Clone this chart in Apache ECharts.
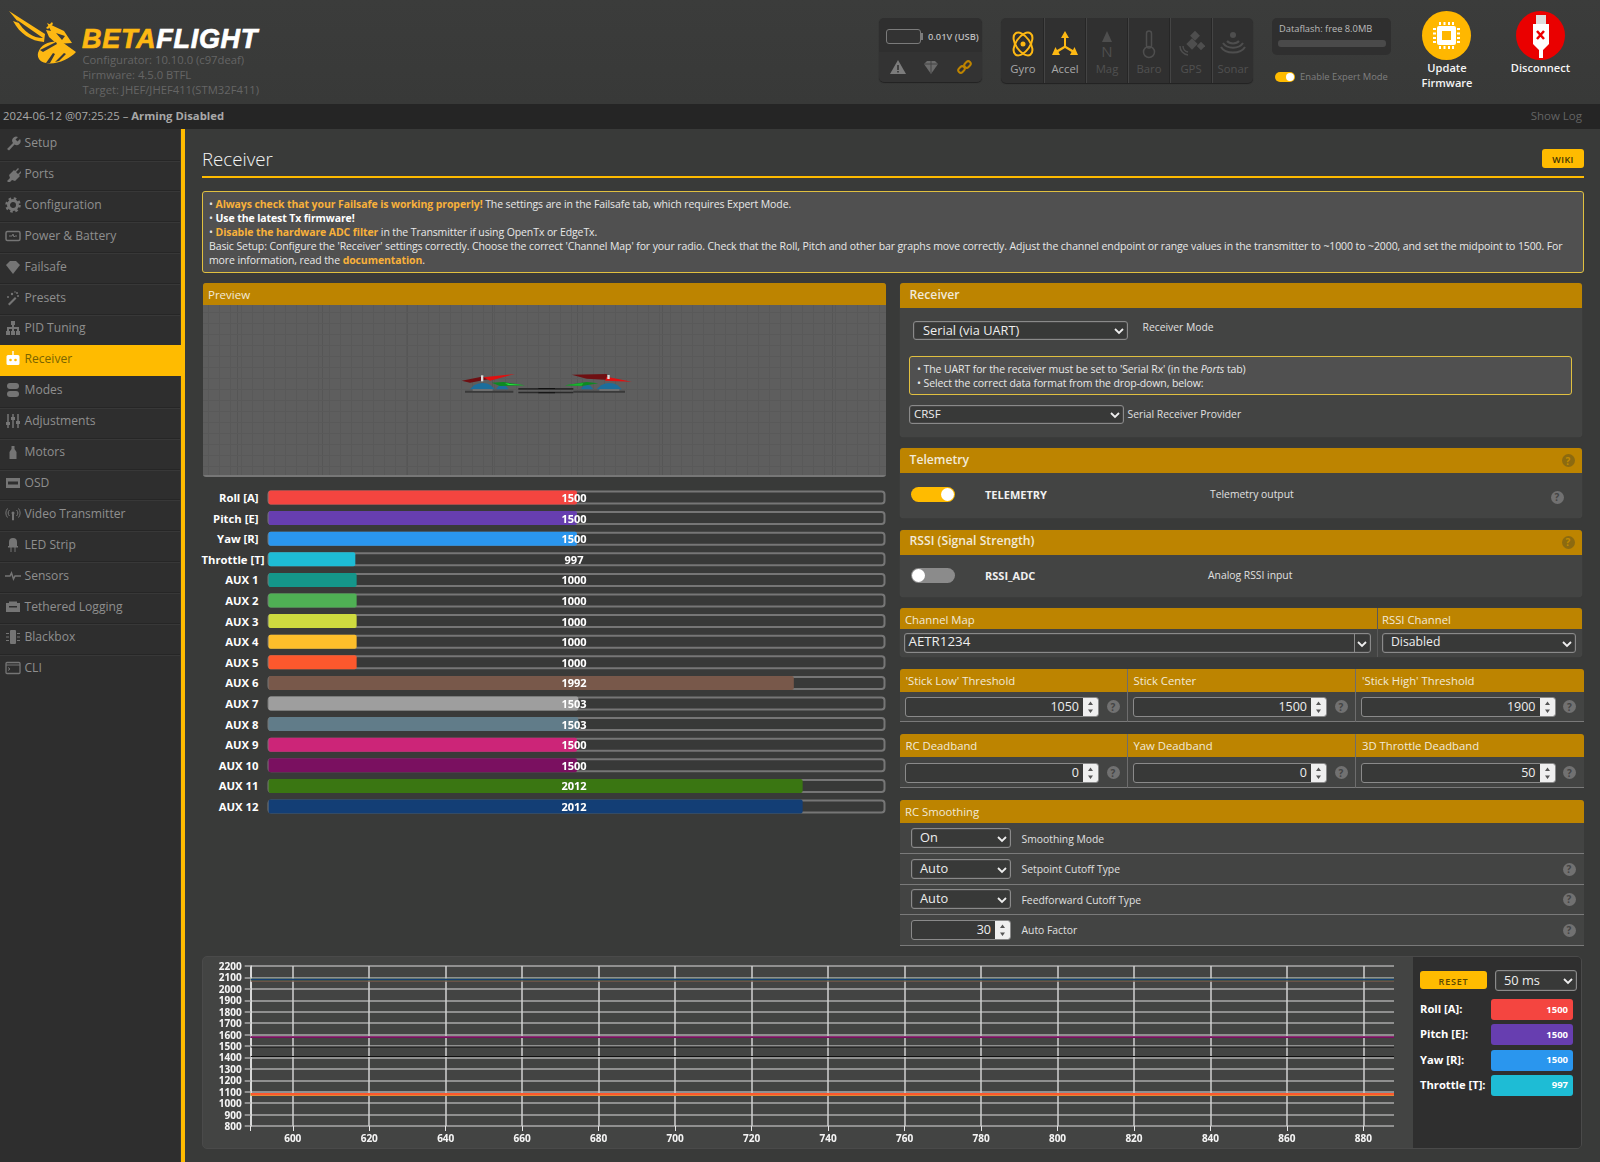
<!DOCTYPE html>
<html><head><meta charset="utf-8"><title>Betaflight Receiver</title>
<script src="https://cdn.jsdelivr.net/npm/echarts@6/dist/echarts.min.js"></script>
<style>
html,body{margin:0;padding:0;width:1600px;height:1162px;overflow:hidden;background:#393a39;font-family:"Open Sans",sans-serif;color:#ddd;}
#ui,#ui div{position:absolute;box-sizing:border-box;}
#ui{left:0;top:0;width:1600px;height:1162px;}
#ui .t{white-space:nowrap;line-height:1;}
svg{display:block;}
b{font-weight:700}
</style></head><body>
<div id="ui"></div>
<div id="bars" style="position:absolute;left:190px;top:480px;width:710px;height:340px"></div>
<div id="lines" style="position:absolute;left:203px;top:957px;width:1210px;height:191px"></div>
<script>
/* ---- chart data ---- */
const channelNames = ['Roll [A]','Pitch [E]','Yaw [R]','Throttle [T]','AUX 1','AUX 2','AUX 3','AUX 4','AUX 5','AUX 6','AUX 7','AUX 8','AUX 9','AUX 10','AUX 11','AUX 12'];
const channelValues = [1500,1500,1500,997,1000,1000,1000,1000,1000,1992,1503,1503,1500,1500,2012,2012];
const channelColors = ['#f44540','#673eb0','#2a96ee','#1ebcd5','#14968a','#4fb054','#cedb3f','#fdbe2b','#fd582d','#78584a','#9e9e9e','#617c89','#cc2578','#7a1060','#3a7612','#133e75'];
const meterMin = 800, meterMax = 2200;
const traceTimes = [589, 888];
const traceLevels = [1576,1576,1576,1073,1078,1078,1078,1078,1078,2069,1576,1576,1576,1576,2082,2082];
const traceDarkLevels = [1491,1408];
const yMin = 800, yMax = 2200, yStep = 100;
const xMin = 589, xMax = 888;
const xTicks = [600,620,640,660,680,700,720,740,760,780,800,820,840,860,880];
const legendRows = [['Roll [A]:',1500,'#f44540'],['Pitch [E]:',1500,'#673eb0'],['Yaw [R]:',1500,'#2a96ee'],['Throttle [T]:',997,'#1ebcd5']];

/* ---- page text ---- */
const navItems = ['Setup','Ports','Configuration','Power & Battery','Failsafe','Presets','PID Tuning','Receiver','Modes','Adjustments','Motors','OSD','Video Transmitter','LED Strip','Sensors','Tethered Logging','Blackbox','CLI'];
const navIcons = [
 '<path d="M2 14L8 8a4 4 0 0 1 5-6l-2.500 2.500 2 2L15 4a4 4 0 0 1-5.500 5.500L4 15.500z"/>',
 '<path d="M2 15l3-3-1-3 5-5 1 1 3-3 1 1-3 3 2 2 3-3 1 1-3 3 1 1-5 5-3-1-3 3z"/>',
 '<circle cx="8" cy="8" r="4.500" fill="none" stroke-width="3"/><circle cx="8" cy="8" r="6.500" fill="none" stroke-width="2.500" stroke-dasharray="2.500 2.600"/>',
 '<rect x="1" y="3.500" width="14" height="9" rx="1.500" fill="none" stroke-width="1.500"/><path d="M4 8h3l1-2 1 3 1-1h2" fill="none" stroke-width="1"/>',
 '<path d="M1 6l4-4h6l4 4-7 9z"/>',
 '<path d="M3 14l7-7 1.500 1.500-7 7z"/><circle cx="7" cy="4" r="1.200"/><circle cx="12" cy="3" r="1"/><circle cx="3" cy="7" r="1"/><circle cx="13" cy="6" r="1"/><circle cx="10" cy="2" r=".8"/>',
 '<path d="M6 1h4v4H9v2h5v4h1v4h-4v-4h1V9H9v2h1v4H6v-4h1V9H4v2h1v4H1v-4h1V7h5V5H6z"/>',
 '<path d="M7.300 0h1.400v4H13a1.500 1.500 0 0 1 1.500 1.500v7A1.500 1.500 0 0 1 13 14H3a1.500 1.500 0 0 1-1.500-1.500v-7A1.500 1.500 0 0 1 3 4h4.300z"/><circle cx="5.500" cy="9" r="1.300" fill="#ffbb00"/><circle cx="10.500" cy="9" r="1.300" fill="#ffbb00"/>',
 '<rect x="2" y="1" width="12" height="6" rx="3"/><rect x="2" y="9" width="12" height="6" rx="3"/>',
 '<path d="M3 1v14M8 1v14M13 1v14" fill="none" stroke-width="1.500"/><rect x="1" y="9" width="4" height="3"/><rect x="6" y="4" width="4" height="3"/><rect x="11" y="8" width="4" height="3"/>',
 '<path d="M6.500 2h3v3l2 3v7h-7V8l2-3z"/>',
 '<path fill-rule="evenodd" d="M1 3h14v10H1z M3 6.500v3h10v-3z"/>',
 '<circle cx="8" cy="7" r="1.500"/><path d="M7.500 8h1v6h-1zM4.500 4a4 4 0 0 0 0 6M11.500 4a4 4 0 0 1 0 6M2.500 2.500a7 7 0 0 0 0 9M13.500 2.500a7 7 0 0 1 0 9" fill="none" stroke-width="1"/>',
 '<path d="M4 9V5a4 4 0 0 1 8 0v4h1v1.500H3V9zM5.500 10h1v5h-1zM9.500 10h1v5h-1z"/>',
 '<path d="M0 8h5l1.500-3 2 6 1.500-3h6" fill="none" stroke-width="1.500"/>',
 '<path fill-rule="evenodd" d="M1 4h3V2.500h8V4h3v9H1z M4 7v1.500h8V7z"/>',
 '<rect x="5" y="1" width="6" height="14" rx="1"/><path d="M1 4h3v1H1zM1 7.500h3v1H1zM1 11h3v1H1zM12 4h3v1h-3zM12 7.500h3v1h-3zM12 11h3v1h-3z"/>',
 '<rect x="1" y="2.500" width="14" height="11" rx="1" fill="none" stroke-width="1.300"/><path d="M1 5h14M3 7.500l2 1.500-2 1.500" fill="none" stroke-width="1"/>'
];
const ui = document.getElementById('ui');
function box(x,y,w,h,css,html){const d=document.createElement('div');d.style.cssText=`left:${x}px;top:${y}px;width:${w}px;height:${h}px;${css||''}`;if(html)d.innerHTML=html;ui.appendChild(d);return d;}
function txt(x,cy,s,css,ax){const d=document.createElement('div');d.className='t';const tx=ax==='c'?'-50%':ax==='r'?'-100%':'0';d.style.cssText=`left:${x}px;top:${cy}px;transform:translate(${tx},-50%);font-size:11px;${css||''}`;d.innerHTML=s;ui.appendChild(d);return d;}
function panel(x,y,w,hh,end,title,help){
  box(x,y,w,end-y,'background:#434443;border-radius:4px;box-shadow:0 0 1px #555');
  box(x,y,w,hh,'background:#bd8400;border-radius:3px 3px 0 0');
  if(title)txt(x+10,y+hh/2-1,title,'font-size:12.200px;font-weight:600;color:#f2ead8');
  if(help)helpIcon(x+w-14,y+hh/2,true);
}
function helpIcon(cx,cy,head){
  box(cx-6.500,cy-6.500,13,13,`border-radius:50%;background:${head?'#8c6a10':'#717171'}`);
  txt(cx,cy,'?',`font-size:10px;font-weight:700;color:${head?'#c28a00':'#444'}`,'c');
}
function chevron(cx,cy,c){box(cx-5,cy-4,10,8,'',`<svg width="10" height="8"><path d="M1 2l4 4 4-4" fill="none" stroke="${c||'#eee'}" stroke-width="1.800"/></svg>`);}
function sel(x,y,w,h,s,fs,pad,rounded){
  box(x,y,w,h,`background:#383938;border:1px solid #8a8a8a;border-radius:${rounded||3}px;box-shadow:inset 0 0 0 .5px #555`);
  txt(x+pad,y+h/2-1,s,`font-size:${fs}px;color:#eee`);
  chevron(x+w-9,y+h/2+.5);
}
function num(x,y,w,h,v){
  box(x,y,w,h,'background:#383938;border:1px solid #8a8a8a;border-radius:3px');
  box(x+w-16,y+1,15,h-2,'background:#efefef;border-radius:0 2px 2px 0','<svg width="15" height="18"><path d="M5 7l2.500-3.500L10 7zM5 11.500l2.500 3.500L10 11.500z" fill="#555"/></svg>');
  txt(x+w-20,y+h/2,v,'font-size:12.500px;color:#eee','r');
}
function toggle(x,y,w,h,on){
  box(x,y,w,h,`background:${on?'#ffbb00':'#8b8b8b'};border-radius:${h/2}px`);
  box(on?x+w-h+1:x+1,y+1,h-2,h-2,'background:#fff;border-radius:50%');
}

/* header */
box(0,0,1600,104,'background:linear-gradient(#3b3c3b,#383938)');
box(0,0,90,70,'',`<svg width="90" height="70" viewBox="0 0 90 70">
<path d="M9 11L45 34l-1 8C31 41 20 34 13 21l6 2z M17 20C24 32 33 38 43 38L20 22z" fill="#fdb813" fill-rule="evenodd"/>
<path d="M47 23l17 8 8 12-15 1-8-7-3-7 5 1z" fill="#fdb813"/><path d="M56 33l9 3-3 4z" fill="#3a3a3a"/>
<path d="M46 28L52 22l1 2-5 5z" fill="#fdb813"/>
<path d="M38 53c3-10 14-13 24-11l14 10c-6 7-20 13-30 11-6-1-9-5-8-10z" fill="#fdb813"/>
<path d="M46 63l7-10 2 1-5 9zM55 62l9-9 2 1-7 7zM40 50l16-8 1 2-14 8z" fill="#3a3a3a"/></svg>`);
txt(82,38.500,'<span style="color:#fdb813">BETA</span><span style="color:#fff">FLIGHT</span>','font-family:\'Liberation Sans\';font-weight:700;font-style:italic;font-size:27px;-webkit-text-stroke:.7px currentColor;letter-spacing:.7px');
txt(82.500,59.500,'Configurator: 10.10.0 (c97deaf)','font-size:11.250px;color:#656565');
txt(82.500,74.500,'Firmware: 4.5.0 BTFL','font-size:11.250px;color:#656565');
txt(82.500,89.500,'Target: JHEF/JHEF411(STM32F411)','font-size:11.250px;color:#656565');

/* battery block */
box(879,18,103,64,'background:#2f2f2f;border-radius:5px;box-shadow:0 1px 1px #222');
box(879,52,103,30,'background:#333;border-radius:0 0 5px 5px');
box(886,29,35,15,'border:1.500px solid #7b7b7b;border-radius:3px;background:#333');
box(921,33,2,7,'background:#7b7b7b');
txt(928,36.500,'0.01V (USB)','font-size:9.300px;color:#bbb;font-weight:600');
box(888,58,20,18,'','<svg width="20" height="18"><path d="M10 2l8 14H2z" fill="#7c7c7c"/><path d="M9.200 7h1.600v5H9.200zM9.200 13h1.600v1.500H9.200z" fill="#333"/></svg>');
box(922,58,18,18,'','<svg width="18" height="18"><path d="M2 6l3-3h8l3 3-7 10z" fill="#6b6b6b"/><path d="M2 6h14M9 3v13" stroke="#444" fill="none"/></svg>');
box(956,58,18,18,'','<svg width="18" height="18"><g fill="none" stroke="#bd8400" stroke-width="2"><rect x="2" y="9" width="7" height="5" rx="2.500" transform="rotate(-45 5.500 11.500)"/><rect x="8" y="4" width="7" height="5" rx="2.500" transform="rotate(-45 11.500 6.500)"/></g></svg>');

/* sensors block */
box(1001,18,252,65,'background:#303030;border-radius:5px;box-shadow:0 1px 1px #222');
const sensorNames=['Gyro','Accel','Mag','Baro','GPS','Sonar'];
const sensorIcons=[
 '<g fill="none" stroke="#fdb813" stroke-width="2"><ellipse cx="14" cy="14" rx="7" ry="13" transform="rotate(-35 14 14)"/><ellipse cx="14" cy="14" rx="7" ry="13" transform="rotate(35 14 14)"/></g><circle cx="14" cy="14" r="2.500" fill="#fdb813"/>',
 '<path d="M14 1l4 7h-3v8l7 4 1.500-3 3.500 8h-8l1.500-3-6.500-4-6.500 4 1.500 3H1l3.500-8L6 20l7-4V8h-3z" fill="#fdb813"/>',
 '<path d="M14 1l5 11H9z" fill="#4e4e4e"/><text x="14" y="27" text-anchor="middle" font-size="15" fill="#4e4e4e" font-family="Open Sans">N</text>',
 '<rect x="11.500" y="1" width="5" height="17" rx="2.500" fill="none" stroke="#4e4e4e" stroke-width="1.500"/><circle cx="14" cy="22" r="5.500" fill="none" stroke="#4e4e4e" stroke-width="1.500"/>',
 '<g fill="#4e4e4e"><rect x="11" y="10" width="8" height="8" transform="rotate(45 15 14)"/><rect x="15" y="2" width="7" height="7" transform="rotate(45 18 5)"/><rect x="21" y="13" width="6" height="6" transform="rotate(45 24 16)"/></g><path d="M3 16a9 9 0 0 0 8 9M6 16a6 6 0 0 0 5 6" fill="none" stroke="#4e4e4e" stroke-width="1.500"/>',
 '<circle cx="14" cy="5" r="3" fill="#4e4e4e"/><g fill="none" stroke="#4e4e4e" stroke-width="2"><path d="M8 11a7 5 0 0 0 12 0M4 13a11 8 0 0 0 20 0M2 17a13 9 0 0 0 24 0"/></g>'];
sensorNames.forEach((s,i)=>{
  const x=1002+i*42;
  if(i)box(x,18,1,65,'background:#444;box-shadow:-1px 0 #262626');
  box(x+7,30,28,30,'',`<svg width="28" height="30" viewBox="0 0 28 30">${sensorIcons[i]}</svg>`);
  txt(x+21,68.500,s,`font-size:11.300px;color:${i<2?'#a8a8a8':'#515151'}`,'c');
});
/* dataflash */
box(1272,18,119,37,'background:#2f2f2f;border-radius:5px');
txt(1279,29,'Dataflash: free 8.0MB','font-size:9.300px;color:#bbb');
box(1278,40,108,7,'background:#4a4a4a;border-radius:3px');
toggle(1275,72,20,10,true);
txt(1300,77,'Enable Expert Mode','font-size:9.400px;color:#7f7f7f');
/* buttons */
box(1422,11,49,49,'background:#ffb700;border-radius:50%','<svg width="49" height="49"><rect x="15" y="15" width="19" height="19" rx="2" fill="#fff"/><rect x="20" y="20" width="9" height="9" fill="#ffb700"/><path d="M18 11v3M22.500 11v3M27 11v3M31 11v3M18 35v3M22.500 35v3M27 35v3M31 35v3M11 18h3M11 22.500h3M11 27h3M11 31h3M35 18h3M35 22.500h3M35 27h3M35 31h3" stroke="#fff" stroke-width="2"/></svg>');
txt(1447,68,'Update','font-size:11.100px;color:#f4f4f4;font-weight:600','c');
txt(1447,83,'Firmware','font-size:11.100px;color:#f4f4f4;font-weight:600','c');
box(1516,11,49,49,'background:#ea0000;border-radius:50%','<svg width="49" height="49"><rect x="20" y="4" width="10" height="9" fill="#ddd"/><path d="M17 13h16v20l-6 6v8h-4v-8l-6-6z" fill="#fff"/><path d="M21 20l7 8M28 20l-7 8" stroke="#e00" stroke-width="2.500"/></svg>');
txt(1540.500,68,'Disconnect','font-size:11.100px;color:#f4f4f4;font-weight:600','c');

/* status bar */
box(0,104,1600,25,'background:#252525');
txt(3,116,'2024-06-12 @07:25:25 – <b>Arming Disabled</b>','font-size:11.300px;color:#a8a8a8');
txt(1582,116,'Show Log','font-size:11.500px;color:#646464','r');

/* navigation */
box(0,129,180,1033,'background:#2e2e2e');
box(180.500,129,4.500,1033,'background:#ffbb00');
navItems.forEach((s,i)=>{
  const top=129+i*30.900, active=s==='Receiver';
  if(active)box(0,top,181,31,'background:#ffbb00');
  else if(i<17&&navItems[i+1]!=='Receiver')box(0,top+30.500,180,1,'background:#262626;box-shadow:0 1px #383838');
  const c=active?'#fff':'#757575';
  box(5,top+6,16,16,'',`<svg width="16" height="16" viewBox="0 0 16 16" fill="${c}" stroke="${c}" stroke-width="0">${navIcons[i]}</svg>`);
  txt(24.500,top+14,s,`font-size:12.100px;color:${active?'#7a6400':'#8f8f8f'}`);
});

/* title */
txt(202,158.500,'Receiver','font-size:18.700px;font-weight:300;color:#f5f5f5');
box(202,176,1382,1.500,'background:#ffbb00');
box(1542,149,42,19,'background:#ffbb00;border-radius:3px');
txt(1563,158.500,'WIKI','font-size:9px;font-weight:600;letter-spacing:.5px;color:#403000','c');
/* note */
box(202,191,1382,82,'background:#505050;border:1.500px solid #e0c040;border-radius:3px');
const Y='color:#f8b13a;font-weight:700', N='font-size:10.500px;letter-spacing:-.1px;color:#e8e8e8';
txt(209,204,`• <span style="${Y}">Always check that your Failsafe is working properly!</span> The settings are in the Failsafe tab, which requires Expert Mode.`,N);
txt(209,218,'• <b style="color:#fff">Use the latest Tx firmware!</b>',N);
txt(209,232,`• <span style="${Y}">Disable the hardware ADC filter</span> in the Transmitter if using OpenTx or EdgeTx.`,N);
txt(209,246,"Basic Setup: Configure the 'Receiver' settings correctly. Choose the correct 'Channel Map' for your radio. Check that the Roll, Pitch and other bar graphs move correctly. Adjust the channel endpoint or range values in the transmitter to ~1000 to ~2000, and set the midpoint to 1500. For",N);
txt(209,260,`more information, read the <span style="${Y}">documentation</span>.`,N);

/* preview */
box(203,283,683,194,'background:#5d5d5d;border-bottom:2px solid #777;border-radius:3px');
box(203,305,683,170,'background-color:#5e5e5e;background-image:linear-gradient(#595959 1px,transparent 1px),linear-gradient(90deg,#595959 1px,transparent 1px),linear-gradient(90deg,#565656 1px,transparent 1px);background-size:11px 11px,11px 11px,85px 85px;background-position:0 7px,5px 0,34px 0');
box(203,283,683,22,'background:#bd8400;border-radius:3px 3px 0 0');
txt(208,294.500,'Preview','font-size:11.500px;font-weight:500;color:#f2ead8');
box(450,360,200,50,'',`<svg width="200" height="50" viewBox="0 0 600 150">
<path d="M45 92h145v6H45zM370 92h155v6H370z" fill="#3a3a3a"/><path d="M205 84h165v5H205zM205 95h165v5H205z" fill="#2a2a2a"/><path d="M265 84h50v3h-50zM265 97h50v3h-50z" fill="#111"/>
<path d="M60 88l12-12q28-14 50 0l13 12z" fill="#1c6e9c"/><path d="M138 88l8-10q14-6 22 0l8 10z" fill="#1c6e9c"/><path d="M440 88l13-12q26-14 50 0l12 12z" fill="#1c6e9c"/><path d="M392 88l8-10q12-6 22 0l8 10z" fill="#1c6e9c"/>
<path d="M68 88h60v4H68zM448 88h60v4h-60z" fill="#777"/>
<path d="M125 68l35-2 65 10-75 2z" fill="#0d8a22"/><path d="M345 76l65-10 35 4-50 8z" fill="#0d8a22"/><path d="M165 70l60 6-50-1z" fill="#28e63e"/><path d="M345 76l55-7-5 8z" fill="#1ab52f"/>
<path d="M35 62l60-12 35 5-70 13z" fill="#6f0f12"/><path d="M100 52l95-10-75 20z" fill="#e01010"/><path d="M365 44l105-2 10 18-70-4z" fill="#6f0f12"/><path d="M470 50l75 15-80-3z" fill="#e01010"/>
<rect x="93" y="46" width="7" height="18" fill="#ddd"/><rect x="472" y="45" width="7" height="12" fill="#ddd"/></svg>`);

/* receiver panel */
const L='font-size:10.350px;color:#e0e0e0', B='font-size:11px;font-weight:700;color:#f0f0f0';
panel(899.500,283,682.500,25,437,'Receiver');
sel(913,321,215,19,'Serial (via UART)',12.800,10);
txt(1142.500,327,'Receiver Mode',L);
box(909,356,663,39,'background:#505050;border:1.500px solid #e0c040;border-radius:3px');
txt(917,369,"• The UART for the receiver must be set to 'Serial Rx' (in the <i>Ports</i> tab)",N);
txt(917,383,'• Select the correct data format from the drop-down, below:',N);
sel(909,405,215,19,'CRSF',11.500,5);
txt(1127.500,414,'Serial Receiver Provider',L);

panel(899.500,448,682.500,25,518,'Telemetry',true);
toggle(911,487,44,15,true);
txt(985,494,'TELEMETRY',B);
txt(1210,494,'Telemetry output',L);
helpIcon(1557,497);

panel(899.500,529.500,682.500,25,597,'RSSI (Signal Strength)',true);
toggle(911,567.500,44,15,false);
txt(985,575,'RSSI_ADC',B);
txt(1208,575,'Analog RSSI input',L);

/* channel map */
const H='font-size:11.300px;color:#f2ead8';
panel(899.500,608,682.500,21,657);
txt(905,619.500,'Channel Map',H);
txt(1382,619.500,'RSSI Channel',H);
box(1377,608,1,49,'background:#595959');
sel(903.500,633,467.500,20,'AETR1234',13.300,5);
box(1354,634,1,18,'background:#8a8a8a');
sel(1382,633,194,20,'Disabled',12.200,9);

/* threshold tables */
const thresholdRows=[
 {y:669,h:23,end:722,inY:697,labels:["'Stick Low' Threshold",'Stick Center',"'Stick High' Threshold"],vals:[1050,1500,1900]},
 {y:734,h:23,end:788,inY:763,labels:['RC Deadband','Yaw Deadband','3D Throttle Deadband'],vals:[0,0,50]}];
const colX=[899.500,1127.500,1356];
thresholdRows.forEach(r=>{
  box(899.500,r.y,684.500,r.end-r.y,'background:#434443;border-bottom:1px solid #7a7a7a;border-radius:3px 3px 0 0');
  box(899.500,r.y,684.500,r.h,'background:#bd8400;border-radius:3px 3px 0 0');
  colX.forEach((x,i)=>{
    if(i)box(x-1,r.y,1,r.end-r.y,'background:#6d6d6d');
    txt(x+6,r.y+r.h/2,r.labels[i],H);
    num(x+5,r.inY,194.500,20,r.vals[i]);
    helpIcon(x+213.500,r.inY+9.500);
  });
});

/* rc smoothing */
box(899.500,800,684.500,146,'background:#434443;border-bottom:1px solid #7a7a7a;border-radius:3px 3px 0 0');
box(899.500,800,684.500,23,'background:#bd8400;border-radius:3px 3px 0 0');
txt(905,811.500,'RC Smoothing',H);
[853,884,914].forEach(y=>box(899.500,y,684.500,1,'background:#7a7a7a'));
sel(911,828,100,20,'On',12.800,9);
sel(911,859,100,20,'Auto',12.800,9);
sel(911,889,100,20,'Auto',12.800,9);
num(911,920,100,20,30);
txt(1021.500,838.500,'Smoothing Mode',L);
txt(1021.500,869,'Setpoint Cutoff Type',L);
txt(1021.500,900,'Feedforward Cutoff Type',L);
txt(1021.500,930,'Auto Factor',L);
[869,899,930].forEach(y=>helpIcon(1569,y));

/* graph panel */
box(202,956,1380,193,'background:#434443;border:1px solid #4a4a4a;border-radius:5px');
box(1413,957,168,191,'background:#2f2f2f;border-radius:0 4px 4px 0');
box(1420,971,67,18,'background:#ffbb00;border-radius:3px');
txt(1453.500,980.500,'RESET','font-size:9px;font-weight:600;letter-spacing:.8px;color:#5b4700','c');
sel(1495,970,82,21,'50 ms',12.800,9);
legendRows.forEach((r,i)=>{
  const y=999+i*25.300;
  txt(1420,y+10,r[0],'font-size:11.200px;font-weight:700;color:#fff');
  box(1490.500,y,82,21,`background:${r[2]};border-radius:3px`);
  txt(1568,y+10.500,r[1],'font-size:9.500px;font-weight:700;color:#fff','r');
});

/* ---- receiver bars ---- */
const trackValues = channelNames.map(() => meterMax);
const barChart = echarts.init(document.getElementById('bars'), null, {renderer:'svg'});
barChart.setOption({
  animation:false,
  grid:{left:78.5,top:7.2,width:617,height:329.6,containLabel:false},
  xAxis:{type:'value',min:meterMin,max:meterMax,show:false},
  yAxis:{type:'category',inverse:true,data:channelNames,axisLine:{show:false},axisTick:{show:false},
    axisLabel:{margin:4,interval:0,fontFamily:'Open Sans',fontWeight:700,fontSize:11.3,color:'#fff',
      formatter:v=>v==='Throttle [T]'?`{t|${v}}`:`{n|${v}}`,
      rich:{t:{fontFamily:'Open Sans',fontWeight:700,fontSize:11.3,color:'#fff'},n:{fontFamily:'Open Sans',fontWeight:700,fontSize:11.3,color:'#fff',padding:[0,6,0,0]}}}},
  series:[
    {name:'Track',type:'bar',data:trackValues,barWidth:14,barGap:'-100%',z:1,silent:true,
      itemStyle:{color:'#383938',borderColor:'#767676',borderWidth:2,borderRadius:3}},
    {name:'Channel',type:'bar',barWidth:14,barGap:'-100%',z:2,silent:true,
      data:channelValues.map((v,i)=>({value:v,itemStyle:{color:channelColors[i],borderRadius:2}}))},
    {name:'Value',type:'bar',data:trackValues,barWidth:14,barGap:'-100%',z:3,silent:true,
      itemStyle:{color:'transparent'},
      label:{show:true,position:'inside',offset:[-3,0],fontFamily:'Open Sans',fontWeight:700,fontSize:11,color:'#fff',
        textShadowColor:'rgba(0,0,0,.45)',textShadowBlur:1,
        formatter:p=>channelValues[p.dataIndex]}}
  ]
});

/* ---- channel traces ---- */
const lineChart = echarts.init(document.getElementById('lines'), null, {renderer:'svg'});
const traceSeries = traceLevels.map((lv,i)=>({
  name:channelNames[i],type:'line',showSymbol:false,silent:true,z:3,
  data:traceTimes.map(t=>[t,lv]),
  lineStyle:{color:channelColors[i],width:i>3&&i<9?2.5:1.5}
}));
const darkSeries = traceDarkLevels.map(lv=>({
  name:'Trace '+lv,type:'line',showSymbol:false,silent:true,z:3,
  data:traceTimes.map(t=>[t,lv]),lineStyle:{color:'#101010',width:1}
}));
const axisFont={fontFamily:'Open Sans',fontWeight:700,fontSize:10,color:'#f4f4f4',textShadowColor:'rgba(0,0,0,.5)',textShadowBlur:1};
lineChart.setOption({
  animation:false,
  grid:{left:47.7,top:9,width:1143.3,height:160,containLabel:false},
  xAxis:{type:'value',min:xMin,max:xMax,
    axisLine:{show:false},
    axisTick:{show:true,length:5,customValues:[xMin].concat(xTicks),lineStyle:{color:'#e6e6e6'}},
    axisLabel:{customValues:xTicks,margin:7,...axisFont},
    splitLine:{show:true,lineStyle:{color:'#d0d0d0',width:1.5}}},
  yAxis:{type:'value',min:yMin,max:yMax,interval:yStep,
    axisLine:{show:true,lineStyle:{color:'#e6e6e6',width:1.5}},
    axisTick:{show:true,length:6,lineStyle:{color:'#a8a8a8',width:1.5}},
    axisLabel:{margin:9,formatter:v=>String(v),...axisFont},
    splitLine:{show:true,lineStyle:{color:'#aaaaaa',width:1.5}}},
  series:traceSeries.concat(darkSeries)
});
</script>
</body></html>
